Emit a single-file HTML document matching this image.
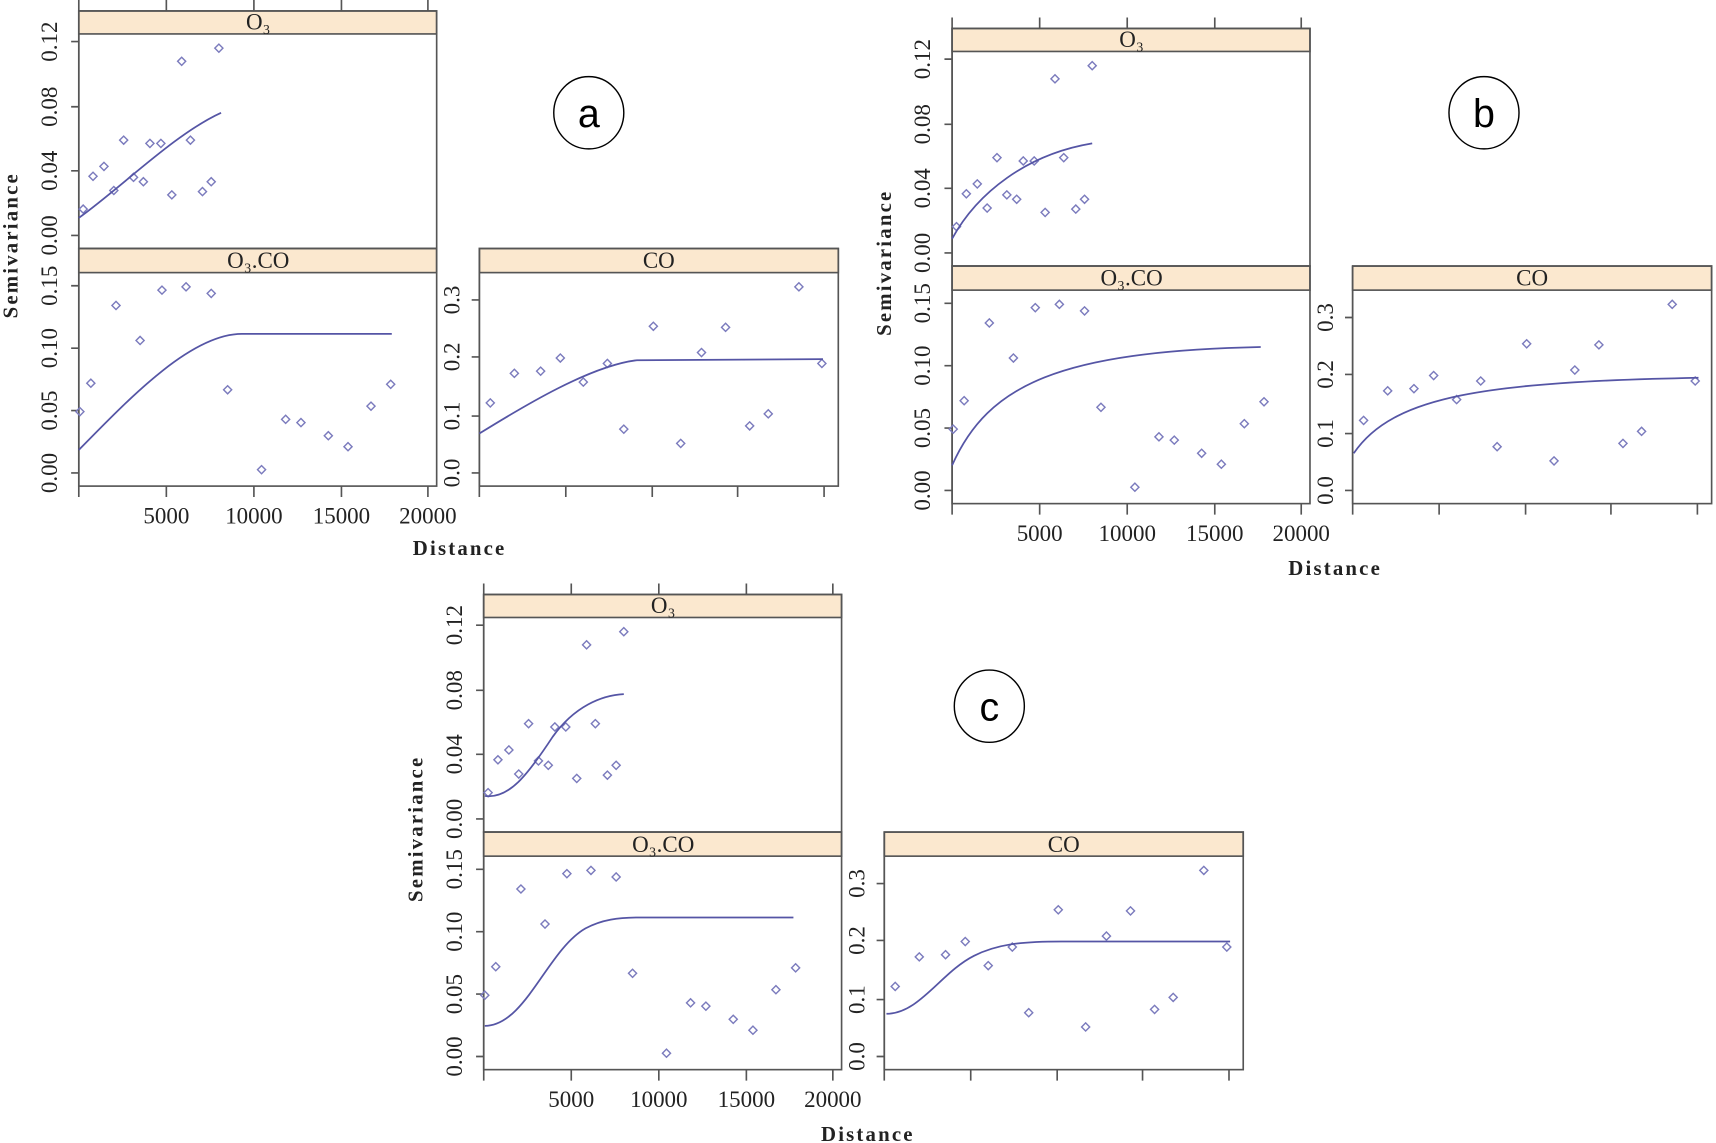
<!DOCTYPE html>
<html><head><meta charset="utf-8"><style>
html,body{margin:0;padding:0;background:#fff;}
svg{display:block;}
text{font-family:"Liberation Serif",serif;fill:#222;}
.tl{font-size:21px;}
.st{font-size:21px;}
.ax{font-size:19px;font-weight:bold;letter-spacing:2px;}
.circ{font-family:"Liberation Sans",sans-serif;font-size:36px;fill:#000;}
</style></head><body>
<svg width="1716" height="1143" viewBox="0 0 1568 1044" preserveAspectRatio="none" xmlns="http://www.w3.org/2000/svg">
<defs>
<path id="d" d="M0,-3.7 L3.7,0 L0,3.7 L-3.7,0 Z" fill="none" stroke="#7b7bbd" stroke-width="1.3"/>
<g id="frame" fill="none" stroke="#555" stroke-width="1.5">
  <line x1="72" y1="0" x2="72" y2="454"/>
  <path d="M152,0V10M232,0V10M312,0V10M391,0V10"/>
  <rect x="72" y="10" width="327" height="21" fill="#fbe8cf"/>
  <rect x="72" y="10" width="327" height="217"/>
  <rect x="72" y="227" width="327" height="22" fill="#fbe8cf"/>
  <rect x="72" y="227" width="327" height="217"/>
  <rect x="438" y="227" width="328" height="22" fill="#fbe8cf"/>
  <rect x="438" y="227" width="328" height="217"/>
  <line x1="438" y1="227" x2="438" y2="454"/>
  <path d="M65,38H72M65,97.5H72M65,156H72M65,215H72"/>
  <path d="M65,261H72M65,318H72M65,375H72M65,432H72"/>
  <path d="M431,274H438M431,326H438M431,380H438M431,432H438"/>
  <path d="M152,444V454M232,444V454M312,444V454M391,444V454"/>
  <path d="M517,444V454M596,444V454M674,444V454M753,444V454"/>
</g>
<g id="pts">
  <use href="#d" x="76" y="191"/><use href="#d" x="85" y="161"/><use href="#d" x="95" y="152"/><use href="#d" x="104" y="174"/><use href="#d" x="113" y="128"/><use href="#d" x="122" y="162"/><use href="#d" x="131" y="166"/><use href="#d" x="137" y="131"/><use href="#d" x="147" y="131"/><use href="#d" x="157" y="178"/><use href="#d" x="166" y="56"/><use href="#d" x="174" y="128"/><use href="#d" x="185" y="175"/><use href="#d" x="193" y="166"/><use href="#d" x="200" y="44"/>
  <use href="#d" x="73" y="376"/><use href="#d" x="83" y="350"/><use href="#d" x="106" y="279"/><use href="#d" x="128" y="311"/><use href="#d" x="148" y="265"/><use href="#d" x="170" y="262"/><use href="#d" x="193" y="268"/><use href="#d" x="208" y="356"/><use href="#d" x="239" y="429"/><use href="#d" x="261" y="383"/><use href="#d" x="275" y="386"/><use href="#d" x="300" y="398"/><use href="#d" x="318" y="408"/><use href="#d" x="339" y="371"/><use href="#d" x="357" y="351"/>
  <use href="#d" x="448" y="368"/><use href="#d" x="470" y="341"/><use href="#d" x="494" y="339"/><use href="#d" x="512" y="327"/><use href="#d" x="533" y="349"/><use href="#d" x="555" y="332"/><use href="#d" x="570" y="392"/><use href="#d" x="597" y="298"/><use href="#d" x="622" y="405"/><use href="#d" x="641" y="322"/><use href="#d" x="663" y="299"/><use href="#d" x="685" y="389"/><use href="#d" x="702" y="378"/><use href="#d" x="730" y="262"/><use href="#d" x="751" y="332"/>
</g>
</defs>

<!-- Panel a -->
<g>
<use href="#frame"/><use href="#pts"/>
<g fill="none" stroke="#5555a5" stroke-width="1.6">
<path d="M72,199 C110,172 160,122 202,103"/>
<path d="M72,411 C120,362 175,305 221,305 L358,305"/>
<path d="M438,396 C480,370 540,334 582,329 L752,328"/>
</g>
<g class="tl" text-anchor="middle">
<text transform="translate(45,38) rotate(-90)" dy="7">0.12</text>
<text transform="translate(45,97.5) rotate(-90)" dy="7">0.08</text>
<text transform="translate(45,156) rotate(-90)" dy="7">0.04</text>
<text transform="translate(45,215) rotate(-90)" dy="7">0.00</text>
<text transform="translate(45,261) rotate(-90)" dy="7">0.15</text>
<text transform="translate(45,318) rotate(-90)" dy="7">0.10</text>
<text transform="translate(45,375) rotate(-90)" dy="7">0.05</text>
<text transform="translate(45,432) rotate(-90)" dy="7">0.00</text>
<text transform="translate(413,274) rotate(-90)" dy="7">0.3</text>
<text transform="translate(413,326) rotate(-90)" dy="7">0.2</text>
<text transform="translate(413,380) rotate(-90)" dy="7">0.1</text>
<text transform="translate(413,432) rotate(-90)" dy="7">0.0</text>
<text x="152" y="478">5000</text><text x="232" y="478">10000</text><text x="312" y="478">15000</text><text x="391" y="478">20000</text>
</g>
<g class="st" text-anchor="middle"><text x="236" y="27">O₃</text><text x="236" y="245">O₃.CO</text><text x="602" y="245">CO</text></g>
<text class="ax" x="420" y="507" text-anchor="middle">Distance</text>
<text class="ax" transform="translate(16,224) rotate(-90)" text-anchor="middle">Semivariance</text>
<ellipse cx="538" cy="103" rx="32" ry="33" fill="none" stroke="#000" stroke-width="1.3"/>
<text class="circ" x="538" y="116" text-anchor="middle">a</text>
</g>

<!-- Panel b -->
<g transform="translate(798,16)">
<use href="#frame"/><use href="#pts"/>
<g fill="none" stroke="#5555a5" stroke-width="1.6">
<path d="M72,202 C95,160 140,125 200,115"/>
<path d="M72,409 C105,335 170,305 354,301"/>
<path d="M439,398 C475,345 560,333 754,329"/>
</g>
<g class="tl" text-anchor="middle">
<text transform="translate(45,38) rotate(-90)" dy="7">0.12</text>
<text transform="translate(45,97.5) rotate(-90)" dy="7">0.08</text>
<text transform="translate(45,156) rotate(-90)" dy="7">0.04</text>
<text transform="translate(45,215) rotate(-90)" dy="7">0.00</text>
<text transform="translate(45,261) rotate(-90)" dy="7">0.15</text>
<text transform="translate(45,318) rotate(-90)" dy="7">0.10</text>
<text transform="translate(45,375) rotate(-90)" dy="7">0.05</text>
<text transform="translate(45,432) rotate(-90)" dy="7">0.00</text>
<text transform="translate(413,274) rotate(-90)" dy="7">0.3</text>
<text transform="translate(413,326) rotate(-90)" dy="7">0.2</text>
<text transform="translate(413,380) rotate(-90)" dy="7">0.1</text>
<text transform="translate(413,432) rotate(-90)" dy="7">0.0</text>
<text x="152" y="478">5000</text><text x="232" y="478">10000</text><text x="312" y="478">15000</text><text x="391" y="478">20000</text>
</g>
<g class="st" text-anchor="middle"><text x="236" y="27">O₃</text><text x="236" y="245">O₃.CO</text><text x="602" y="245">CO</text></g>
<text class="ax" x="422" y="509" text-anchor="middle">Distance</text>
<text class="ax" transform="translate(16,224) rotate(-90)" text-anchor="middle">Semivariance</text>
<ellipse cx="558" cy="87" rx="32" ry="33" fill="none" stroke="#000" stroke-width="1.3"/>
<text class="circ" x="558" y="100" text-anchor="middle">b</text>
</g>

<!-- Panel c -->
<g transform="translate(370,533)">
<use href="#frame"/><use href="#pts"/>
<g fill="none" stroke="#5555a5" stroke-width="1.6">
<path d="M73,194 C95,197 112,175 135,140 C155,112 180,102 200,101"/>
<path d="M73,404 C110,404 130,335 165,315 C180,307 195,305 215,305 L355,305"/>
<path d="M440,393 C470,393 490,355 520,340 C540,330 560,327 600,327 L754,327"/>
</g>
<g class="tl" text-anchor="middle">
<text transform="translate(45,38) rotate(-90)" dy="7">0.12</text>
<text transform="translate(45,97.5) rotate(-90)" dy="7">0.08</text>
<text transform="translate(45,156) rotate(-90)" dy="7">0.04</text>
<text transform="translate(45,215) rotate(-90)" dy="7">0.00</text>
<text transform="translate(45,261) rotate(-90)" dy="7">0.15</text>
<text transform="translate(45,318) rotate(-90)" dy="7">0.10</text>
<text transform="translate(45,375) rotate(-90)" dy="7">0.05</text>
<text transform="translate(45,432) rotate(-90)" dy="7">0.00</text>
<text transform="translate(413,274) rotate(-90)" dy="7">0.3</text>
<text transform="translate(413,326) rotate(-90)" dy="7">0.2</text>
<text transform="translate(413,380) rotate(-90)" dy="7">0.1</text>
<text transform="translate(413,432) rotate(-90)" dy="7">0.0</text>
<text x="152" y="478">5000</text><text x="232" y="478">10000</text><text x="312" y="478">15000</text><text x="391" y="478">20000</text>
</g>
<g class="st" text-anchor="middle"><text x="236" y="27">O₃</text><text x="236" y="245">O₃.CO</text><text x="602" y="245">CO</text></g>
<text class="ax" x="423" y="509" text-anchor="middle">Distance</text>
<text class="ax" transform="translate(16,224) rotate(-90)" text-anchor="middle">Semivariance</text>
<ellipse cx="534" cy="112" rx="32" ry="33" fill="none" stroke="#000" stroke-width="1.3"/>
<text class="circ" x="534" y="125" text-anchor="middle">c</text>
</g>
</svg>
</body></html>
